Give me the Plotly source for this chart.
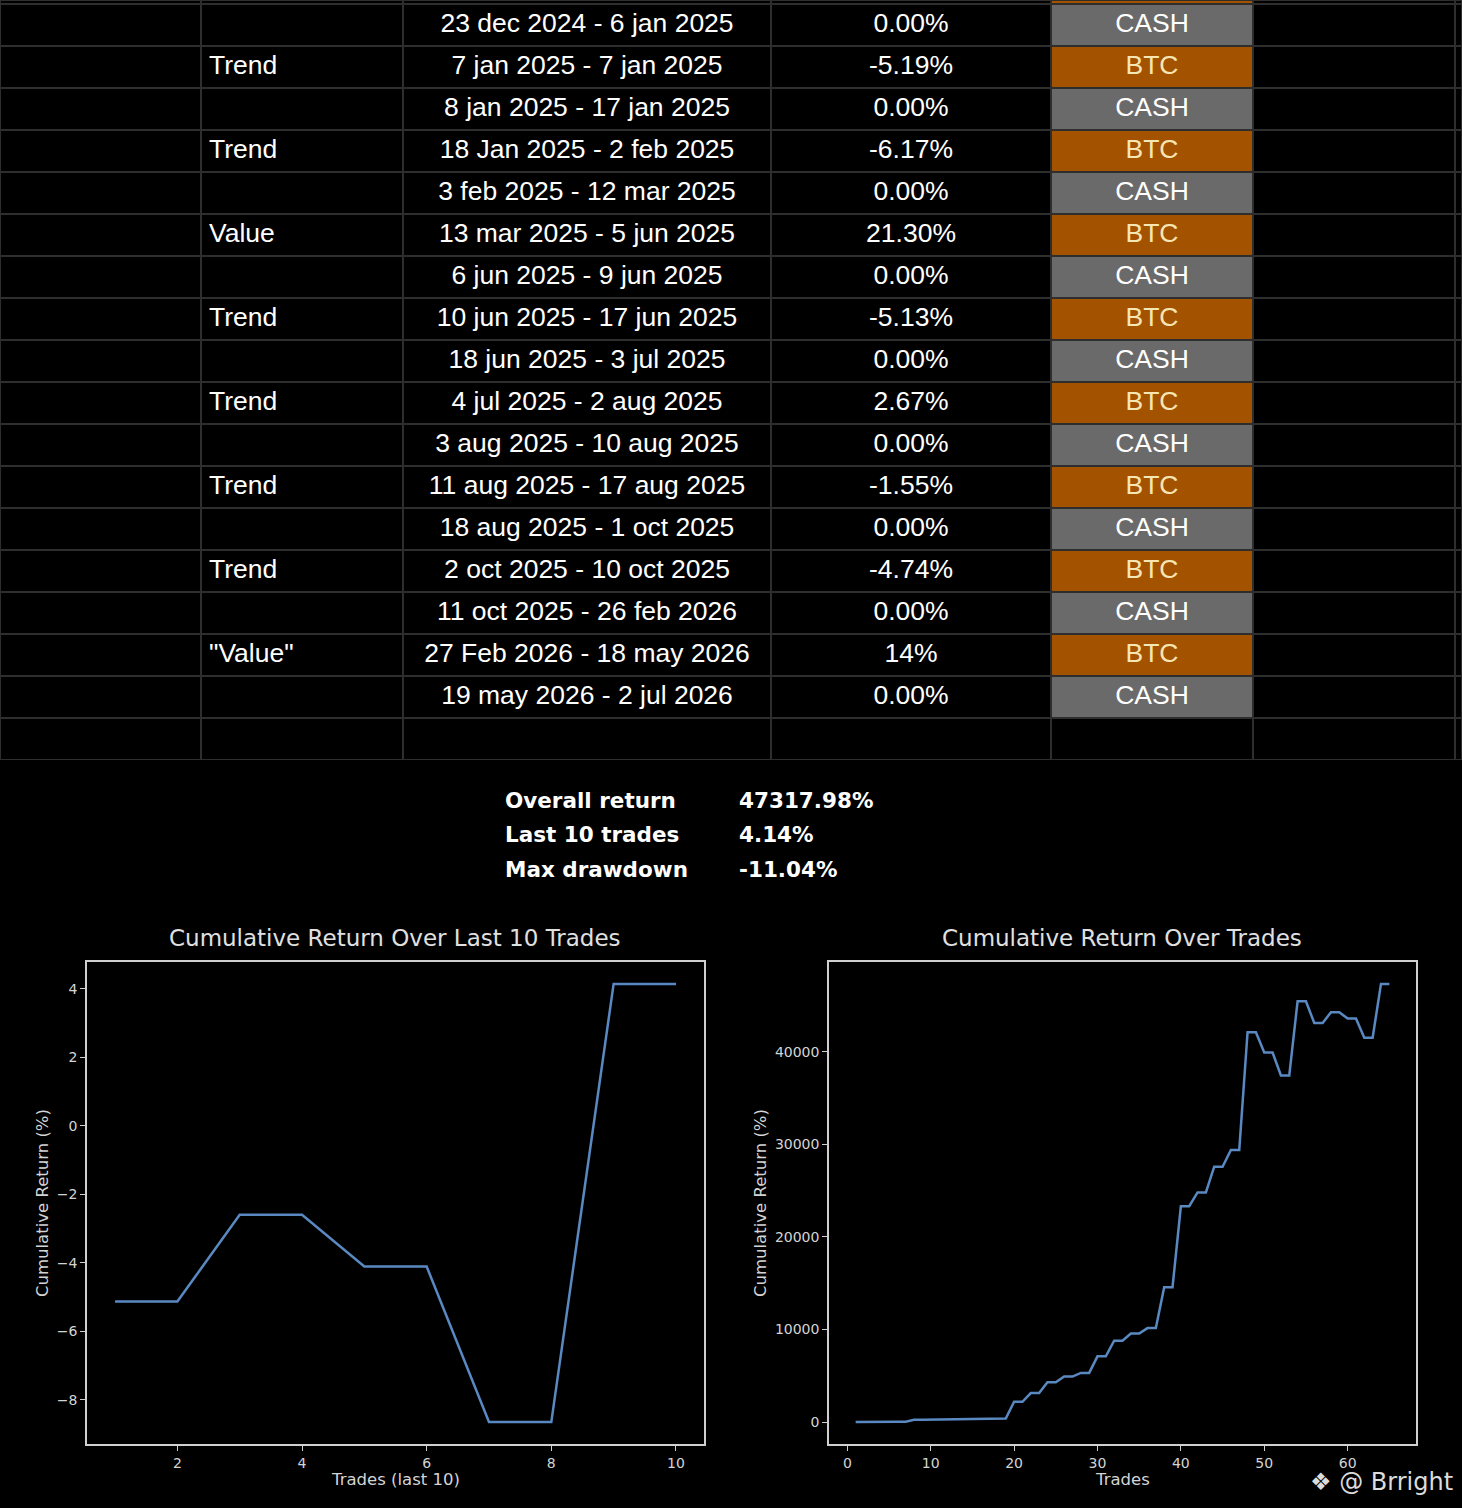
import plotly.graph_objects as go
from plotly.subplots import make_subplots

# --- table rows (last part of the trade log) ---
strategy = ["", "Trend", "", "Trend", "", "Value", "", "Trend", "", "Trend",
            "", "Trend", "", "Trend", "", '"Value"', ""]
periods = ["23 dec 2024 - 6 jan 2025", "7 jan 2025 - 7 jan 2025",
           "8 jan 2025 - 17 jan 2025", "18 Jan 2025 - 2 feb 2025",
           "3 feb 2025 - 12 mar 2025", "13 mar 2025 - 5 jun 2025",
           "6 jun 2025 - 9 jun 2025", "10 jun 2025 - 17 jun 2025",
           "18 jun 2025 - 3 jul 2025", "4 jul 2025 - 2 aug 2025",
           "3 aug 2025 - 10 aug 2025", "11 aug 2025 - 17 aug 2025",
           "18 aug 2025 - 1 oct 2025", "2 oct 2025 - 10 oct 2025",
           "11 oct 2025 - 26 feb 2026", "27 Feb 2026 - 18 may 2026",
           "19 may 2026 - 2 jul 2026"]
returns = ["0.00%", "-5.19%", "0.00%", "-6.17%", "0.00%", "21.30%", "0.00%",
           "-5.13%", "0.00%", "2.67%", "0.00%", "-1.55%", "0.00%", "-4.74%",
           "0.00%", "14%", "0.00%"]
assets = ["CASH", "BTC", "CASH", "BTC", "CASH", "BTC", "CASH", "BTC", "CASH",
          "BTC", "CASH", "BTC", "CASH", "BTC", "CASH", "BTC", "CASH"]

# --- summary stats ---
stat_names = ["Overall return", "Last 10 trades", "Max drawdown"]
stat_values = ["47317.98%", "4.14%", "-11.04%"]

# --- cumulative return curves (%) ---
last10_trades = [1, 2, 3, 4, 5, 6, 7, 8, 9, 10]
last10_cum = [-5.13, -5.13, -2.60, -2.60, -4.11, -4.11, -8.65, -8.65, 4.14, 4.14]

all_cum = [0, 20, 20, 30, 30, 40, 40, 250, 250, 260, 260, 270, 270, 310, 310,
           300, 300, 380, 380, 2190, 2190, 3130, 3130, 4300, 4300, 4920, 4920,
           5310, 5310, 7100, 7100, 8790, 8790, 9570, 9570, 10150, 10150,
           14570, 14570, 23320, 23320, 24800, 24800, 27580, 27580, 29380,
           29380, 42100, 42100, 39910, 39910, 37440, 37440, 45440, 45440,
           43100, 43100, 44250, 44250, 43570, 43570, 41500, 41500, 47318, 47318]
all_trades = list(range(1, len(all_cum) + 1))

W, H = 1462, 1508
BG = "#000000"
GRAY = "#6a6a6a"
ORANGE = "#a35200"
LINE = "#5a89c2"
AX = "#cfcfcf"

fig = make_subplots(rows=1, cols=2)

# table
n = len(periods)
blank = [""] * (n + 1)
asset_fill = [GRAY if a == "CASH" else ORANGE for a in assets] + [BG]
asset_font = ["#ffffff" if a == "CASH" else "#f6e6b4" for a in assets] + ["#ffffff"]
fig.add_trace(go.Table(
    domain=dict(x=[0, 1], y=[1 - 760 / H, 1]),
    columnwidth=[201, 202, 368, 280, 202, 202, 7],
    header=dict(values=[""] * 7, height=4,
                fill_color=[BG, BG, BG, BG, ORANGE, BG, BG],
                line=dict(color="#2e2e2e", width=2), font=dict(size=1)),
    cells=dict(
        values=[blank, strategy + [""], periods + [""], returns + [""],
                assets + [""], blank, blank],
        height=42,
        align=["left", "left", "center", "center", "center", "center", "center"],
        fill_color=[[BG] * (n + 1)] * 4 + [asset_fill] + [[BG] * (n + 1)] * 2,
        line=dict(color="#2e2e2e", width=2),
        font=dict(family="Liberation Sans", size=26.5,
                  color=[["#ffffff"] * (n + 1)] * 4 + [asset_font]
                  + [["#ffffff"] * (n + 1)] * 2),
    ),
))

fig.add_trace(go.Scatter(x=last10_trades, y=last10_cum, mode="lines",
                         line=dict(color=LINE, width=2.5), showlegend=False),
              row=1, col=1)
fig.add_trace(go.Scatter(x=all_trades, y=all_cum, mode="lines",
                         line=dict(color=LINE, width=2.5), showlegend=False),
              row=1, col=2)

axis_common = dict(showgrid=False, zeroline=False, showline=True, mirror=True,
                   linecolor=AX, linewidth=1.5, ticks="outside", ticklen=5,
                   tickcolor=AX, tickfont=dict(family="DejaVu Sans", size=14,
                                               color="#d4d4d4"))

fig.update_xaxes(domain=[87 / W, 704 / W], range=[0.55, 10.45], dtick=2,
                 tick0=0, **axis_common, row=1, col=1)
fig.update_yaxes(domain=[1 - 1444 / H, 1 - 962 / H], range=[-9.29, 4.78],
                 dtick=2, tick0=0, **axis_common, row=1, col=1)
fig.update_xaxes(domain=[829 / W, 1416 / W], range=[-2.2, 68.2], dtick=10,
                 tick0=0, **axis_common, row=1, col=2)
fig.update_yaxes(domain=[1 - 1444 / H, 1 - 962 / H], range=[-2366, 49684],
                 dtick=10000, tick0=0, tickformat="d", **axis_common,
                 row=1, col=2)

ann = []
# stats block
for i, (k, v) in enumerate(zip(stat_names, stat_values)):
    yy = 1 - (800 + i * 34.5) / H
    ann.append(dict(x=503 / W, y=yy, text="<b>%s</b>" % k))
    ann.append(dict(x=737 / W, y=yy, text="<b>%s</b>" % v))
stat_font = dict(family="DejaVu Sans", size=21.5, color="#ffffff")
for a in ann:
    a.update(xanchor="left", font=stat_font)

# chart titles and axis labels
title_font = dict(family="DejaVu Sans", size=23, color="#e0e0e0")
label_font = dict(family="DejaVu Sans", size=16.5, color="#d4d4d4")
ann += [
    dict(x=395 / W, y=1 - 938 / H, text="Cumulative Return Over Last 10 Trades",
         font=title_font),
    dict(x=1122 / W, y=1 - 938 / H, text="Cumulative Return Over Trades",
         font=title_font),
    dict(x=395 / W, y=1 - 1479 / H, text="Trades (last 10)", font=label_font),
    dict(x=1122 / W, y=1 - 1479 / H, text="Trades", font=label_font),
    dict(x=42 / W, y=1 - 1203 / H, text="Cumulative Return (%)", textangle=-90,
         font=label_font),
    dict(x=760 / W, y=1 - 1203 / H, text="Cumulative Return (%)", textangle=-90,
         font=label_font),
    dict(x=1455 / W, y=1 - 1482 / H, text="❖ @ Brright", xanchor="right",
         font=dict(family="DejaVu Sans", size=24, color="#dcdcdc")),
]
for a in ann:
    a.setdefault("xanchor", "center")
    a.update(xref="paper", yref="paper", yanchor="middle", showarrow=False)

fig.update_layout(
    width=W, height=H,
    margin=dict(l=0, r=0, t=0, b=0),
    paper_bgcolor=BG, plot_bgcolor=BG,
    annotations=ann,
    showlegend=False,
)

fig.write_html("out.html", config={"displayModeBar": False},
               post_script="document.body.style.margin='0';")
